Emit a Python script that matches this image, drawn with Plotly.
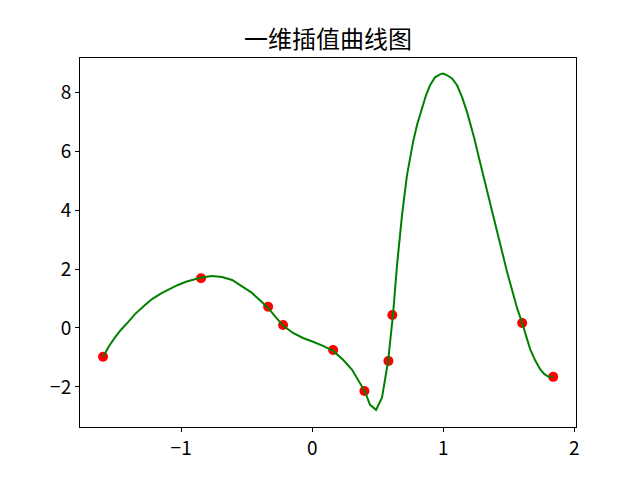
import plotly.graph_objects as go

# Sample points (red dots)
pts_x = [-1.596, -0.848, -0.336, -0.222, 0.160, 0.399, 0.582, 0.612, 1.603, 1.840]
pts_y = [-0.98, 1.69, 0.72, 0.10, -0.75, -2.14, -1.12, 0.44, 0.17, -1.66]

# Interpolated curve
curve_x = [-1.596, -1.551, -1.505, -1.459, -1.405, -1.352, -1.276, -1.222, -1.146, -1.085,
           -1.024, -0.963, -0.894, -0.848, -0.764, -0.688, -0.611, -0.535, -0.459, -0.382,
           -0.336, -0.283, -0.222, -0.146, -0.070, 0.007, 0.083, 0.160, 0.236, 0.305,
           0.366, 0.404, 0.442, 0.488, 0.533, 0.579, 0.617, 0.648, 0.686, 0.724,
           0.770, 0.801, 0.839, 0.869, 0.900, 0.938, 0.976, 1.000, 1.030, 1.068,
           1.106, 1.145, 1.183, 1.205, 1.236, 1.274, 1.305, 1.358, 1.412, 1.450,
           1.488, 1.526, 1.564, 1.603, 1.633, 1.664, 1.702, 1.740, 1.771, 1.801,
           1.840]
curve_y = [-0.98, -0.62, -0.32, -0.06, 0.20, 0.47, 0.78, 0.98, 1.19, 1.33,
           1.46, 1.57, 1.66, 1.71, 1.76, 1.73, 1.63, 1.42, 1.19, 0.87,
           0.68, 0.39, 0.08, -0.17, -0.34, -0.47, -0.61, -0.78, -1.08, -1.42,
           -1.86, -2.17, -2.61, -2.78, -2.37, -1.15, 0.44, 2.14, 3.83, 5.19,
           6.31, 6.90, 7.46, 7.90, 8.24, 8.51, 8.61, 8.64, 8.58, 8.47,
           8.24, 7.83, 7.32, 6.98, 6.47, 5.76, 5.19, 4.27, 3.25, 2.58,
           1.90, 1.29, 0.68, 0.17, -0.30, -0.72, -1.10, -1.40, -1.56, -1.65,
           -1.66]

x_ticks = [-1, 0, 1, 2]
y_ticks = [-2, 0, 2, 4, 6, 8]
title_text = "一维插值曲线图"

fig = go.Figure()
fig.add_trace(go.Scatter(x=pts_x, y=pts_y, mode="markers",
                         marker=dict(color="red", size=10, line=dict(width=0)),
                         showlegend=False))
fig.add_trace(go.Scatter(x=curve_x, y=curve_y, mode="lines",
                         line=dict(color="green", width=2),
                         showlegend=False))

axis_common = dict(showgrid=False, zeroline=False, showline=True, linecolor="black",
                   linewidth=1, mirror=True, ticks="outside", ticklen=4,
                   tickcolor="black", tickwidth=1,
                   tickfont=dict(family="Noto Sans CJK SC", size=19, color="black"))

fig.update_layout(
    width=640, height=480,
    margin=dict(l=80, r=64, t=58, b=53),
    paper_bgcolor="white", plot_bgcolor="white",
    title=dict(text=title_text, x=328/640, xanchor="center", y=1-40/480, yanchor="middle",
               font=dict(family="Noto Sans CJK SC", size=24, color="black")),
    xaxis=dict(range=[-1.772, 2.014], tickvals=x_ticks, **axis_common),
    yaxis=dict(range=[-3.363, 9.166], tickvals=y_ticks, **axis_common),
)

fig.write_html("out.html", config={"displayModeBar": False},
               post_script="document.body.style.margin='0px';")
